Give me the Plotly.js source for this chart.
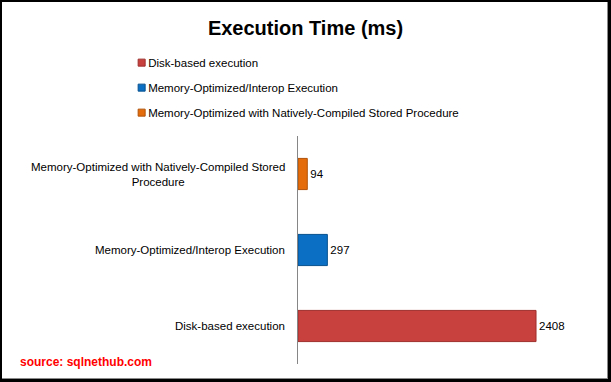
<!DOCTYPE html>
<html>
<head>
<meta charset="utf-8">
<script src="https://cdn.plot.ly/plotly-3.0.1.min.js"></script>
<style>
html,body{margin:0;padding:0;background:#fff;}
#wrap{position:relative;width:611px;height:382px;overflow:hidden;}
#chart{position:absolute;left:0;top:0;width:611px;height:382px;}
#frame{position:absolute;left:0;top:0;width:611px;height:382px;box-sizing:border-box;
  border-left:2px solid #000;border-top:2px solid #000;border-right:3px solid #000;border-bottom:3px solid #000;pointer-events:none;}
#frame2{position:absolute;left:2px;top:2px;width:606px;height:377px;box-sizing:border-box;
  border-right:1px solid #8a8a8a;border-bottom:1px solid #8a8a8a;pointer-events:none;}
</style>
</head>
<body>
<div id="wrap">
  <div id="chart"></div>
  <div id="frame"></div>
  <div id="frame2"></div>
</div>
<script>
// Data
const categories = [
  "Disk-based execution",
  "Memory-Optimized/Interop Execution",
  "Memory-Optimized with Natively-Compiled Stored Procedure"
];
const categoryLabels = [
  "Disk-based execution",
  "Memory-Optimized/Interop Execution",
  "Memory-Optimized with Natively-Compiled Stored<br>Procedure"
];
const executionTimeMs = [2408, 297, 94];
const colors = ["#C8413F", "#0B6FC3", "#E46C0A"];
const lineColors = ["#9E2F2D", "#08528F", "#B0530A"];
const titleText = "Execution Time (ms)";
const sourceText = "source: sqlnethub.com";

const FONT = "'Liberation Sans', Arial, sans-serif";

const traces = categories.map((c, i) => ({
  type: "bar",
  orientation: "h",
  name: c,
  y: [c],
  x: [executionTimeMs[i]],
  text: [String(executionTimeMs[i])],
  textposition: "outside",
  textfont: {family: FONT, size: 11.5, color: "#000"},
  cliponaxis: false,
  legendgroup: "g" + i,
  marker: {color: colors[i], line: {color: lineColors[i], width: 1}},
  hoverinfo: "x+y"
}));

const annotations = categories.map((c, i) => ({
  xref: "paper", yref: "y",
  x: -0.037, y: c,
  xanchor: "right", yanchor: "middle",
  align: "center",
  text: categoryLabels[i],
  showarrow: false,
  font: {family: FONT, size: 11.5, color: "#000"}
}));
annotations.push({
  xref: "paper", yref: "paper",
  x: -0.935, y: 0.009,
  xanchor: "left", yanchor: "middle",
  text: "<b>" + sourceText + "</b>",
  showarrow: false,
  font: {family: FONT, size: 12, color: "#FF0000"}
});

const layout = {
  width: 611, height: 382,
  margin: {l: 298, r: 13, t: 136, b: 18, pad: 0, autoexpand: false},
  paper_bgcolor: "#fff", plot_bgcolor: "#fff",
  title: {
    text: "<b>" + titleText + "</b>",
    x: 0.5, xref: "container", xanchor: "center",
    y: 0.927, yref: "container", yanchor: "middle",
    font: {family: FONT, size: 20, color: "#000"}
  },
  barmode: "overlay",
  bargap: 0.59,
  showlegend: true,
  legend: {
    xref: "container", yref: "container",
    x: 0.177, y: 0.874, xanchor: "left", yanchor: "top",
    traceorder: "grouped", tracegroupgap: 6,
    font: {family: FONT, size: 11.5, color: "#000"},
    bgcolor: "rgba(0,0,0,0)", borderwidth: 0
  },
  xaxis: {
    range: [0, 3035], showgrid: false, zeroline: false, showticklabels: false,
    showline: false, ticks: "", fixedrange: true
  },
  yaxis: {
    type: "category", categoryorder: "array", categoryarray: categories,
    showticklabels: false, showgrid: false, zeroline: false,
    showline: true, linecolor: "#868686", linewidth: 1, ticks: "", fixedrange: true
  },
  annotations: annotations
};

Plotly.newPlot("chart", traces, layout, {staticPlot: true, displayModeBar: false}).then(() => {
  // smaller legend swatches placed close to the legend text
  document.querySelectorAll("#chart .legendpoints path").forEach(p => {
    p.setAttribute("d", "M17,3.5H10V-3.5H17Z");
  });
});
</script>
</body>
</html>
